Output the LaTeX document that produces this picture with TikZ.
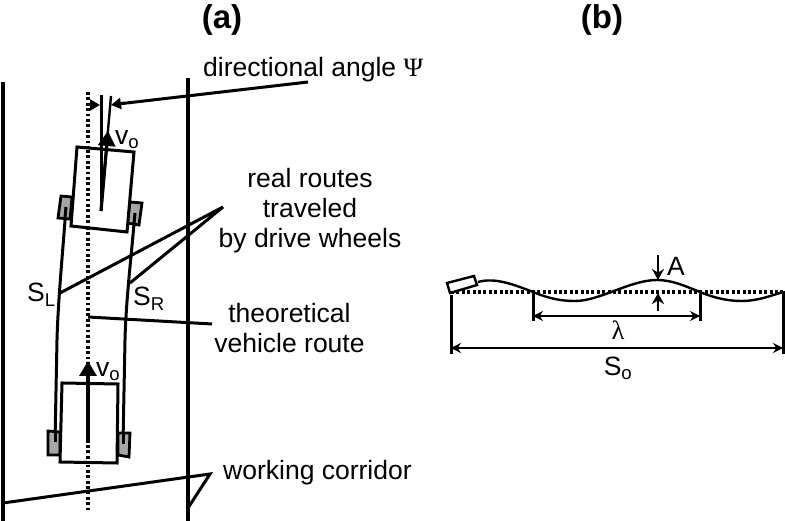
\documentclass[tikz,border=0pt]{standalone}
\usepackage{fontspec}
\setmainfont{Liberation Sans}
\newfontfamily\greekfont{Liberation Serif}
\usetikzlibrary{arrows.meta}

\tikzset{
  wall/.style={line width=3.5pt},
  line/.style={line width=3pt},
  thin line/.style={line width=2.4pt},
  centre/.style={line width=3.2pt, dash pattern=on 2.9pt off 2.5pt},
  wheel/.style={draw, line width=2.8pt, fill=gray!70},
  body/.style={draw, line width=3pt, fill=white},
  speed/.style={line width=3.2pt, -{Triangle[length=15pt,width=17pt]}},
  dim/.style={line width=2.4pt, {Stealth[length=10pt,width=10pt]}-{Stealth[length=10pt,width=10pt]}},
  point/.style={line width=2.6pt, -{Stealth[length=11pt,width=12pt]}},
  pinch/.style={line width=2.6pt, -{Triangle[length=10pt,width=11pt]}},
  txt/.style={inner sep=0pt, font=\fontsize{26.5}{30}\selectfont},
  head/.style={inner sep=0pt, font=\fontsize{33}{36}\selectfont\bfseries}
}

\begin{document}
\begin{tikzpicture}[x=1pt, y=-1pt]
        \useasboundingbox (0,0) rectangle (785,521);

        \node [head, anchor=base] (parta) at (222,29) {(a)};
        \node [head, anchor=base] (partb) at (602,29) {(b)};

%% corridor
        \draw [wall] (3,82) -- (3,521);
        \draw [wall] (188,78) -- (188,521);
        \draw [centre] (88,92) -- (88,510);

%% routes
        \draw [line] (66,207) .. controls (63,250) and (58,300) .. (57,340) -- (55,442);
        \draw [line] (135,213) .. controls (131,260) and (126,300) .. (125,340) -- (123,443);

%% front vehicle
        \draw [wheel] (61,196) -- (72,197) -- (70,219) -- (58,218) -- cycle;
        \draw [wheel] (130,202) -- (142,203) -- (139,225) -- (127,223) -- cycle;
        \draw [line] (66,207) -- (65,218);
        \draw [line] (135,213) -- (134,224);
        \draw [body] (77,147) -- (134,152) -- (127,232) -- (71,226) -- cycle;
        \draw [centre] (88,150) -- (88,228);
        \coordinate (axis) at (101,211);
        \draw [line] (axis) -- (101,95);
        \draw [thin line] (axis) -- (111,96);
        \draw [speed] (axis) -- (108,131);
        \node [txt, anchor=base west] (vtop) at (115,145) {v\textsubscript{o}};

%% rear vehicle
        \draw [wheel] (48,431) -- (60,432) -- (60,455) -- (48,455) -- cycle;
        \draw [wheel] (118,433) -- (130,433) -- (129,457) -- (118,455) -- cycle;
        \draw [line] (55,431) -- (55,442);
        \draw [line] (123,433) -- (123,444);
        \draw [body] (62,383) -- (118,384) -- (117,463) -- (60,462) -- cycle;
        \draw [centre] (88,445) -- (88,462);
        \draw [speed] (88,443) -- (88,361);
        \node [txt, anchor=base west] (vbottom) at (96,377) {v\textsubscript{o}};

%% angle
        \coordinate (angleleft) at (86,105);
        \coordinate (angleright) at (124,103);
        \coordinate (anglein) at (118,104);
        \draw [pinch] (angleleft) -- (100,105);
        \draw [pinch] (angleright) -- (111,105);

%% labels
        \node [txt, anchor=base west] (angle) at (203,77) {directional angle {\greekfont Ψ}};
        \node [txt, align=center] (real) at (310,211) {real routes\\traveled\\by drive wheels};
        \node [txt, align=center] (theory) at (289.5,328) {theoretical\\vehicle route};
        \node [txt, anchor=base west] (corridor) at (223,479) {working corridor};
        \node [txt, anchor=base west] (sl) at (27,302) {S\textsubscript{L}};
        \node [txt, anchor=base west] (sr) at (133,306) {S\textsubscript{R}};

        \coordinate (anglekink) at (308,82);
        \coordinate (realkink) at (223,207);
        \coordinate (routel) at (60,293);
        \coordinate (router) at (130,283);
        \coordinate (theoryend) at (212,324);
        \coordinate (theorystart) at (88,317);
        \coordinate (corrleft) at (3,503);
        \coordinate (corrkink) at (210,474);
        \coordinate (corrright) at (188,508);

%% leaders
        \draw [line] (anglein) -- (anglekink);
        \draw [line] (routel) -- (realkink) -- (router);
        \draw [line] (theorystart) -- (theoryend);
        \draw [line, line join=miter] (corrleft) -- (corrkink) -- (corrright);

%% wave
        \draw [centre] (451,292) -- (783,292);
        \draw [line] (451,295) -- (451,354);
        \draw [line] (783,291) -- (783,354);
        \draw [line] (533,292) -- (533,321);
        \draw [line] (700,292) -- (700,321);
        \draw [thin line] (478,282) .. controls (495,277) and (515,285) .. (533,292)
                .. controls (550,299) and (562,301) .. (575,301)
                .. controls (600,301) and (630,280) .. (657,280)
                .. controls (672,280) and (685,286) .. (700,292)
                .. controls (717,299) and (730,301) .. (742,301)
                .. controls (757,301) and (770,296) .. (783,292);
        \draw [body, line width=2.4pt] (447,283) -- (474,276) -- (477,285) -- (450,293) -- cycle;

        \coordinate (atop) at (658,255);
        \coordinate (apeak) at (658,280);
        \coordinate (abottom) at (658,311);
        \coordinate (abase) at (658,293);
        \draw [point] (atop) -- (apeak);
        \draw [point] (abottom) -- (abase);
        \node [txt, anchor=base west] (amp) at (667,276) {A};

        \coordinate (lstart) at (533,316);
        \coordinate (lend) at (700,316);
        \coordinate (sstart) at (451,348);
        \coordinate (send) at (783,348);
        \draw [dim] (lstart) -- (lend);
        \draw [dim] (sstart) -- (send);
        \node [txt, anchor=base] (lambda) at (618,340) {\greekfont λ};
        \node [txt, anchor=base] (length) at (618,376) {S\textsubscript{o}};
\end{tikzpicture}
\end{document}
